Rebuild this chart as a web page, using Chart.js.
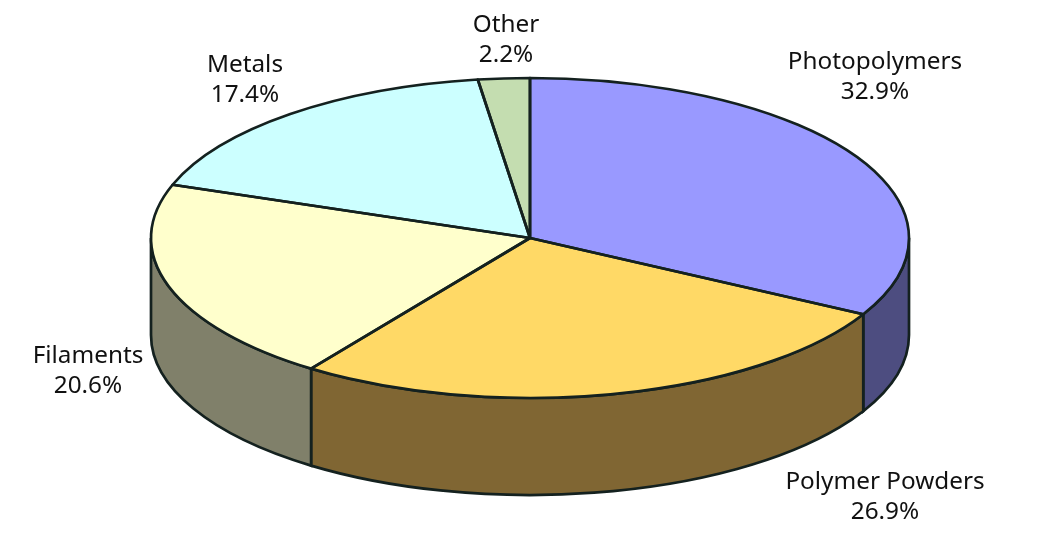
<!DOCTYPE html>
<html>
<head>
<meta charset="utf-8">
<style>
    html, body { margin: 0; padding: 0; background: #fff; }
    canvas { display: block; }
</style>
<script src="https://cdn.jsdelivr.net/npm/chart.js@4"></script>
</head>
<body>
<canvas id="pieChart" width="1054" height="560"></canvas>
<script>
var categories = ['Photopolymers', 'Polymer Powders', 'Filaments', 'Metals', 'Other'];
var shares = [32.9, 26.9, 20.6, 17.4, 2.2];
var topColors = ['#9999FF', '#FFD966', '#FFFFCC', '#CCFFFF', '#C4DDB0'];
var sideColors = ['#4D4D80', '#806633', '#80806A', '#668080', '#626E58'];

// where the tilted pie sits on the page
var CX = 530, CY = 238, RX = 379, RY = 160, DEPTH = 97;
var OUTLINE = '#14211f';
var OUTLINE_WIDTH = 2.7;

// label centres, same order as categories
var labelSpots = [[875, 62], [885, 482], [88, 356], [245, 65], [506, 25]];
var LINE_GAP = 30;

// draws the side wall first, then squashes the library's arcs into an ellipse
var tiltPlugin = {
    id: 'tilt',
    beforeDatasetDraw: function (chart) {
        var ctx = chart.ctx;
        var arcs = chart.getDatasetMeta(0).data;

        arcs.forEach(function (arc, i) {
            var a = Math.max(arc.startAngle, 0);
            var b = Math.min(arc.endAngle, Math.PI);
            if (b <= a) return;

            ctx.beginPath();
            ctx.ellipse(CX, CY, RX, RY, 0, a, b);
            ctx.ellipse(CX, CY + DEPTH, RX, RY, 0, b, a, true);
            ctx.closePath();
            ctx.fillStyle = sideColors[i];
            ctx.fill();
            ctx.lineWidth = OUTLINE_WIDTH;
            ctx.strokeStyle = OUTLINE;
            ctx.stroke();
        });

        ctx.save();
        squash(ctx, arcs[0]);
    },
    afterDatasetDraw: function (chart) {
        var ctx = chart.ctx;
        ctx.restore();

        // outlines go on after restore so the line width is not squashed
        chart.getDatasetMeta(0).data.forEach(function (arc) {
            ctx.save();
            squash(ctx, arc);
            ctx.beginPath();
            ctx.moveTo(arc.x, arc.y);
            ctx.arc(arc.x, arc.y, arc.outerRadius, arc.startAngle, arc.endAngle);
            ctx.closePath();
            ctx.restore();
            ctx.lineWidth = OUTLINE_WIDTH;
            ctx.lineJoin = 'round';
            ctx.strokeStyle = OUTLINE;
            ctx.stroke();
        });
    },
    afterDraw: function (chart) {
        var ctx = chart.ctx;
        ctx.save();
        ctx.font = '24.3px "Noto Sans"';
        ctx.fillStyle = '#111';
        ctx.textAlign = 'center';
        ctx.textBaseline = 'middle';
        categories.forEach(function (name, i) {
            ctx.fillText(name, labelSpots[i][0], labelSpots[i][1]);
            ctx.fillText(shares[i].toFixed(1) + '%', labelSpots[i][0], labelSpots[i][1] + LINE_GAP);
        });
        ctx.restore();
    }
};

function squash(ctx, arc) {
    ctx.translate(CX, CY);
    ctx.scale(RX / arc.outerRadius, RY / arc.outerRadius);
    ctx.translate(-arc.x, -arc.y);
}

new Chart(document.getElementById('pieChart').getContext('2d'), {
    type: 'pie',
    data: {
        labels: categories,
        datasets: [{
            data: shares,
            backgroundColor: topColors,
            borderWidth: 0
        }]
    },
    options: {
        responsive: false,
        animation: false,
        plugins: {
            legend: { display: false },
            tooltip: { enabled: false }
        }
    },
    plugins: [tiltPlugin]
});
</script>
</body>
</html>
